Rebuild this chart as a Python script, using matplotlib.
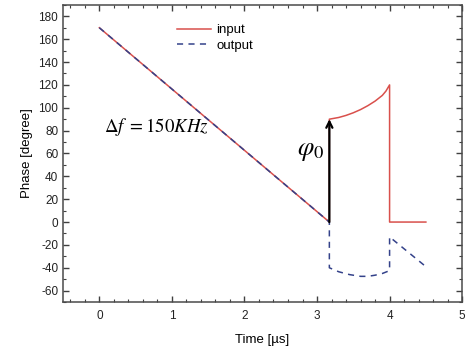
"""Phase of input and output signal versus time."""

import matplotlib
matplotlib.use("Agg")
from matplotlib import pyplot as plt
from matplotlib.ticker import MultipleLocator

# Values
input_t = [0.0, 3.17, 3.17, 3.3, 3.4, 3.5, 3.6, 3.7, 3.8, 3.9, 3.95, 4.0, 4.0, 4.5]
input_phase = [170, 0, 90, 91.5, 93.3, 95.6, 98.4, 101.8, 105.8, 110.8, 114.6, 120, 0, 0]

output_t = [0.0, 3.17, 3.17, 3.3, 3.45, 3.6, 3.7, 3.8, 3.9, 4.0, 4.0, 4.5]
output_phase = [170, 0, -40, -43.5, -46, -47.5, -47.5, -46.5, -45, -42.5, -13, -39]

x_ticks = [0, 1, 2, 3, 4, 5]
y_ticks = list(range(-60, 181, 20))

plt.rcParams['mathtext.fontset'] = 'stix'
plt.rcParams['axes.unicode_minus'] = False
plt.rcParams['font.family'] = ['Liberation Sans', 'DejaVu Sans']

fig = plt.figure(figsize=(4.74, 3.48), dpi=100)
ax = fig.add_axes([0.133, 0.132, 0.842, 0.854])

ax.plot(input_t, input_phase, color='#d9504c', lw=1.1, label='input')
ax.plot(output_t, output_phase, color='#34428a', lw=1.1, linestyle=(0, (4, 3.5)),
        label='output')

# arrow for the phase jump
ax.annotate('', xy=(3.17, 90), xytext=(3.17, 0),
            arrowprops=dict(arrowstyle='->', color='black', lw=1.6,
                            shrinkA=0, shrinkB=0, mutation_scale=11))
ax.text(2.72, 62, r'$\varphi_0$', fontsize=19, ha='left', va='center')
ax.text(0.06, 83, r'$\Delta f\ {=}150KHz$', fontsize=13.5, ha='left', va='center')

ax.set_xlim(-0.5, 5)
ax.set_ylim(-70, 190)
ax.set_xticks(x_ticks)
ax.set_yticks(y_ticks)
ax.xaxis.set_minor_locator(MultipleLocator(0.2))
ax.yaxis.set_minor_locator(MultipleLocator(10))
ax.tick_params(which='both', direction='in', top=True, right=True,
               colors='#404040', labelsize=8.5, labelcolor='#222222')
ax.tick_params(which='major', length=4, width=1)
ax.tick_params(which='minor', length=2.2, width=0.8)
ax.tick_params(axis='x', pad=6)
for sp in ax.spines.values():
    sp.set_color('#4a4a4a')
    sp.set_linewidth(1.1)

ax.set_xlabel('Time [\u00b5s]', fontsize=9.5, labelpad=8)
ax.set_ylabel('Phase [degree]', fontsize=9.5, labelpad=4)

ax.legend(loc='upper left', bbox_to_anchor=(0.255, 0.975), frameon=False,
          fontsize=9.5, handlelength=2.6, handletextpad=0.4, labelspacing=0.25)

plt.savefig('out.png', dpi=100)
